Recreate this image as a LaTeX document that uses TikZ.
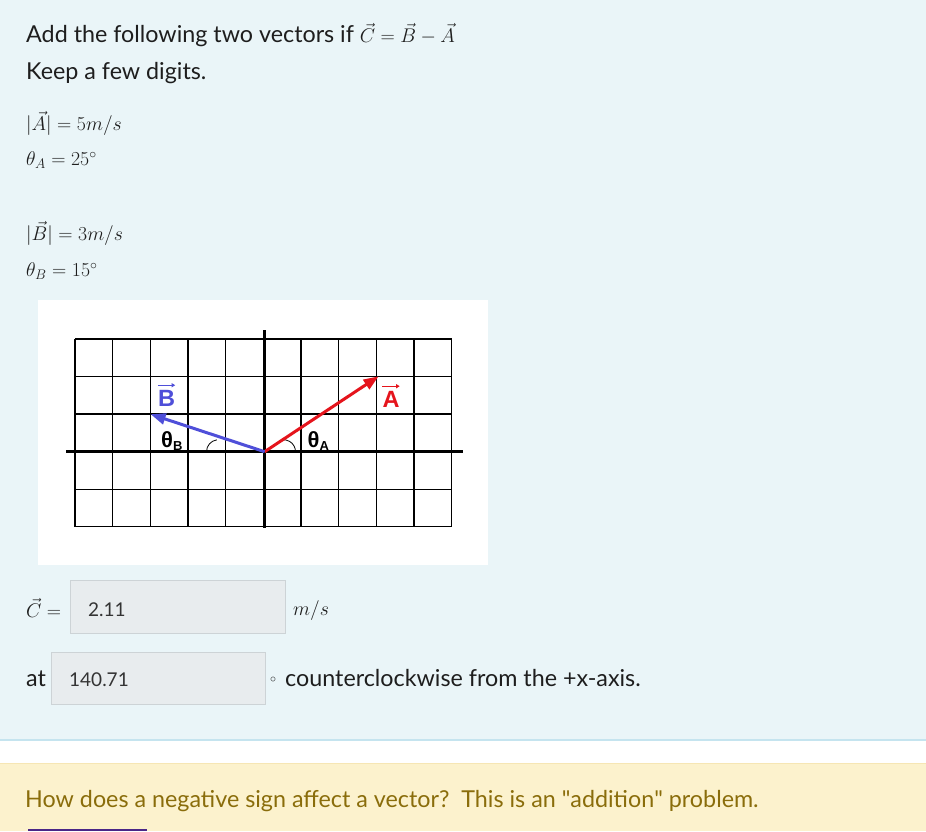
\RequirePackage{fix-cm}
\documentclass[tikz,border=0pt]{standalone}
\usepackage[no-math]{fontspec}
\setmainfont{Lato}
\newfontfamily\figfont{Liberation Sans}
\usetikzlibrary{arrows.meta}
\definecolor{pagebg}{HTML}{EAF5F8}
\definecolor{sepline}{HTML}{C5E4EF}
\definecolor{hintbg}{HTML}{FCF2CD}
\definecolor{hintborder}{HTML}{F6E6B4}
\definecolor{hinttext}{HTML}{8A6D0B}
\definecolor{boxfill}{HTML}{E8ECEE}
\definecolor{boxline}{HTML}{CDD3D6}
\definecolor{vecred}{HTML}{E5141C}
\definecolor{vecblue}{HTML}{4F4FD9}
\definecolor{btnpurple}{HTML}{4A2787}
\definecolor{ink}{HTML}{1E1E1E}
\definecolor{boxink}{HTML}{333333}
\tikzset{
  bigtext/.style={anchor=base west, inner sep=0pt, text=ink, font=\fontsize{23.3}{28}\selectfont},
  mathtext/.style={anchor=base west, inner sep=0pt, text=ink, font=\fontsize{19.8}{23}\selectfont},
  midtext/.style={anchor=base west, inner sep=0pt, text=ink, font=\fontsize{23.3}{28}\selectfont},
  boxtext/.style={anchor=base west, inner sep=0pt, text=boxink, font=\fontsize{19}{23}\selectfont},
  inputbox/.style={fill=boxfill, draw=boxline, line width=1pt},
  gridln/.style={line width=1.3pt, black},
  axisln/.style={line width=2.6pt, black},
  vecarrow/.style={line width=3pt, -{Triangle[length=15pt,width=11pt]}},
  figlabel/.style={inner sep=0pt, font=\figfont\bfseries\fontsize{23.5}{26}\selectfont},
  thetalabel/.style={anchor=base west, inner sep=0pt, text=black, font=\figfont\bfseries\fontsize{22}{24}\selectfont},
  anglearc/.style={line width=0.8pt, black}
}
\begin{document}
\begin{tikzpicture}[x=1pt,y=-1pt]
\useasboundingbox (0,0) rectangle (926,831);
% page areas
\fill[pagebg] (0,0) rectangle (926,740);
\draw[sepline, line width=1.2pt] (0,740) -- (926,740);
\fill[white] (0,740.6) rectangle (926,763);
\fill[hintbg] (0,763) rectangle (926,831);
\draw[hintborder, line width=1pt] (0,763.5) -- (926,763.5);
\fill[btnpurple] (28,829) rectangle (147,831);

% statement
\node[bigtext] (title) at (26,42.5) {Add the following two vectors if {\fontsize{19.8}{23}\selectfont$\vec C = \vec B - \vec A$}};
\node[bigtext] (keep) at (26,79.5) {Keep a few digits.};
\node[mathtext] (magA) at (26,130) {$|\vec A| = 5m/s$};
\node[mathtext] (angA) at (26,165.5) {$\theta_A = 25^\circ$};
\node[mathtext] (magB) at (26,240.5) {$|\vec B| = 3m/s$};
\node[mathtext] (angB) at (26,276.5) {$\theta_B = 15^\circ$};

% figure
\fill[white] (38,300) rectangle (488,565);
\foreach \i in {0,...,10} {
  \draw[gridln] ({75+\i*37.67},339) -- ({75+\i*37.67},526.8);
}
\foreach \j in {0,...,5} {
  \draw[gridln] (75,{339+\j*37.56}) -- (451.7,{339+\j*37.56});
}
\draw[axisln] (66,451.7) -- (463,451.7);
\draw[axisln] (264.6,330) -- (264.6,527.5);
\coordinate (O) at (264.6,451.7);
\coordinate (Atip) at (378.6,376.3);
\coordinate (Btip) at (150.6,414.2);
\draw[anglearc] (206.5,451.7) arc[start angle=180, end angle=262, radius=12];
\draw[anglearc] (295.5,451.7) arc[start angle=0, end angle=-100, radius=12];
\draw[vecarrow, vecred] (O) -- (Atip);
\draw[vecarrow, vecblue] (O) -- (Btip);
\node[figlabel, text=vecblue] (Blab) at (166.5,398.5) {B};
\draw[vecblue, line width=1.4pt, -{Triangle[length=3.5pt,width=4pt]}] ([yshift=5pt]Blab.north west) -- ([yshift=5pt]Blab.north east);
\node[figlabel, text=vecred] (Alab) at (391,399.5) {A};
\draw[vecred, line width=1.4pt, -{Triangle[length=3.5pt,width=4pt]}] ([yshift=5pt]Alab.north west) -- ([yshift=5pt]Alab.north east);
\node[thetalabel] (thB) at (161,447.5) {θ\raisebox{-3pt}{\fontsize{13}{15}\selectfont B}};
\node[thetalabel] (thA) at (307.5,447.5) {θ\raisebox{-3pt}{\fontsize{13}{15}\selectfont A}};

% answers
\node[mathtext] (Ceq) at (26,617) {$\vec C =$};
\draw[inputbox] (70,580.5) rectangle (285.5,633);
\node[boxtext] (v1) at (88,616) {2.11};
\node[mathtext] (unit) at (293,615) {$m/s$};
\node[midtext] (at) at (26,686.7) {at};
\draw[inputbox] (51.5,652.7) rectangle (265.5,704.3);
\node[boxtext] (v2) at (69,686.5) {140.71};
\node[inner sep=0pt, text=ink, font=\fontsize{12}{14}\selectfont] (deg) at (273,679.5) {$\circ$};
\node[midtext] (ccw) at (285,686.7) {counterclockwise from the +x-axis.};

% hint
\node[anchor=base west, inner sep=0pt, text=hinttext, font=\fontsize{23.3}{28}\selectfont] (hint) at (25,807.5) {How does a negative sign affect a vector?\ \ This is an \textquotedbl addition\textquotedbl\ problem.};
\end{tikzpicture}
\end{document}
